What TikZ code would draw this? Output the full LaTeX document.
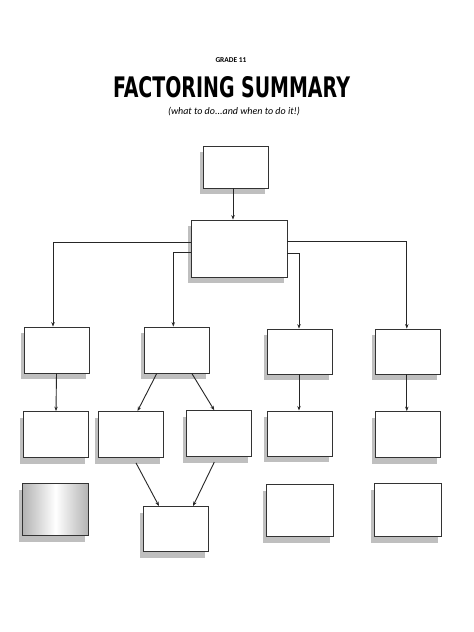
\documentclass[tikz,border=0pt]{standalone}
\usepackage{fontspec}
\newfontfamily\gradefont{Carlito}
\newfontfamily\headfont{DejaVu Sans}
\usetikzlibrary{positioning,shadows,arrows.meta}

\begin{document}
\begin{tikzpicture}
            [%%%%%%%%%%%%%%%%%%%%%%%%%%%%%%%%%%%%%%%%%%%%%%%%%%%%%%%%%%
                x=1pt,y=-1pt,>={Stealth[length=4.5pt,width=3.4pt]},
                card/.style={rectangle,draw=black!80,fill=white,line width=.8pt,
                              inner sep=0pt,minimum width=65pt,minimum height=46pt,
                              drop shadow={shadow xshift=-3.5pt,shadow yshift=-6pt,
                                           fill=black!25,opacity=1}},
                link/.style={->,draw=black!85,line width=.9pt}
            ]%%%%%%%%%%%%%%%%%%%%%%%%%%%%%%%%%%%%%%%%%%%%%%%%%%%%%%%%%%
            \useasboundingbox[fill=white] (0,0) rectangle (474,632);

            % heading
            \node (grade) at (231,60.5) {\resizebox{31pt}{!}{\gradefont\bfseries GRADE 11}};
            \node (title) at (231.5,87) {\resizebox{237pt}{21pt}{\headfont\bfseries FACTORING SUMMARY}};
            \node (sub) at (234,112) {\resizebox{132pt}{!}{\gradefont\itshape (what to do...and when to do it!)}};

            % boxes
            \node[card,minimum height=42pt] (top) at (235.5,167) {};
            \node[card,minimum width=96pt,minimum height=57pt] (main) at (239,248.5) {};

            \node[card] (b1) at (56.5,350) {};
            \node[card] (b2) at (176.8,350) {};
            \node[card,minimum height=45pt] (b3) at (300,351.5) {};
            \node[card,minimum height=45pt] (b4) at (408.3,351.5) {};

            \node[card] (c1) at (56,434.5) {};
            \node[card] (c2) at (130.5,434.5) {};
            \node[card] (c3) at (219.3,433.7) {};
            \node[card,minimum height=45pt] (c4) at (300,433.4) {};
            \node[card] (c5) at (408.3,434.5) {};

            \node[card,minimum width=66pt,minimum height=52pt,
                  left color=black!30,right color=black!30,middle color=white] (d1) at (55.5,509.5) {};
            \node[card,minimum height=45pt] (d2) at (176,529) {};
            \node[card,minimum width=67pt,minimum height=52pt] (d4) at (300.2,510.5) {};
            \node[card,minimum width=67pt,minimum height=53pt] (d5) at (408.3,510) {};

            % connectors
            \draw [link] ([xshift=-2.5pt]top.south) -- ([xshift=-2.5pt]top.south |- main.north);
            \draw [link] ([yshift=6.5pt]main.west) -| ([xshift=-3.5pt]b1.north);
            \draw [link] ([yshift=-3.5pt]main.west) -| ([xshift=-3.5pt]b2.north);
            \draw [link] ([yshift=7.5pt]main.east) -| ([xshift=-1.5pt]b4.north);
            \draw [link] ([yshift=-4.5pt]main.east) -| ([xshift=-1pt]b3.north);

            \draw [link] (b1.south) -- (c1.north);
            \draw [link] ([xshift=-20pt]b2.south) -- ([xshift=7pt]c2.north);
            \draw [link] ([xshift=15pt]b2.south) -- ([xshift=-5pt]c3.north);
            \draw [link] ([xshift=-1pt]b3.south) -- ([xshift=-1pt]c4.north);
            \draw [link] ([xshift=-1.5pt]b4.south) -- ([xshift=-1.5pt]c5.north);

            \draw [link] ([xshift=5.5pt,yshift=-5pt]c2.south) -- ([xshift=-17pt]d2.north);
            \draw [link] ([xshift=-5pt,yshift=-5pt]c3.south) -- ([xshift=17pt]d2.north);
        \end{tikzpicture}
\end{document}
